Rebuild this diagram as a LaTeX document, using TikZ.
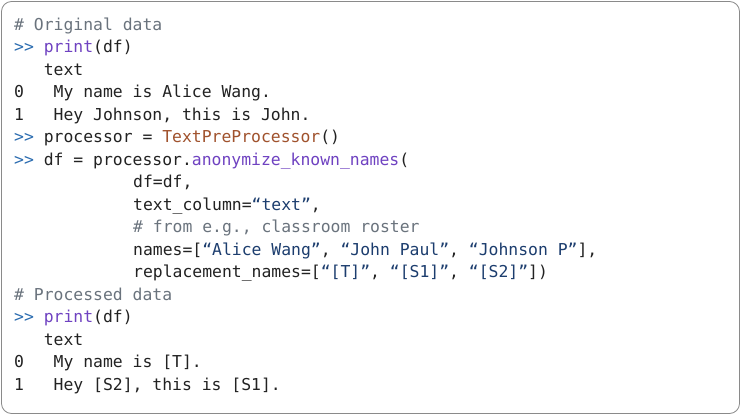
\documentclass[tikz,border=0pt]{standalone}
\usepackage{fontspec}
\setmonofont{DejaVu Sans Mono}[Scale=1.0]
\usepackage{xcolor}
\definecolor{cmtgray}{HTML}{6A737D}
\definecolor{promptblue}{HTML}{2B6CB0}
\definecolor{funcpurple}{HTML}{6F42C1}
\definecolor{classbrown}{HTML}{A0522D}
\definecolor{strnavy}{HTML}{1C3D6E}
\definecolor{codeblack}{HTML}{222222}
\definecolor{boxedge}{HTML}{8A8A8A}
\newcommand{\cmt}[1]{\textcolor{cmtgray}{#1}}
\newcommand{\prm}{\textcolor{promptblue}{>{}>} }
\newcommand{\fn}[1]{\textcolor{funcpurple}{#1}}
\newcommand{\cls}[1]{\textcolor{classbrown}{#1}}
\newcommand{\str}[1]{\textcolor{strnavy}{#1}}
\begin{document}
\begin{tikzpicture}[x=1pt,y=-1pt]
\tikzset{codeline/.style={anchor=base west,inner sep=0pt,text=codeblack,
  font=\ttfamily\fontsize{16.4}{22}\selectfont}}
\useasboundingbox (0,0) rectangle (741,415);
\draw [boxedge, rounded corners=10pt, line width=0.8pt, fill=white] (1.5,1.5) rectangle (739.5,413.5);
\node [codeline] (l1) at (14,30) {\cmt{\# Original data}};
\node [codeline] (l2) at (14,52.5) {\prm\fn{print}(df)};
\node [codeline] (l3) at (14,75) {\ \ \ text};
\node [codeline] (l4) at (14,97.5) {0\ \ \ My name is Alice Wang.};
\node [codeline] (l5) at (14,120) {1\ \ \ Hey Johnson, this is John.};
\node [codeline] (l6) at (14,142.5) {\prm processor = \cls{TextPreProcessor}()};
\node [codeline] (l7) at (14,165) {\prm df = processor.\fn{anonymize\_known\_names}(};
\node [codeline] (l8) at (133,187.5) {df=df,};
\node [codeline] (l9) at (133,210) {text\_column=\str{“text”},};
\node [codeline] (l10) at (133,232.5) {\cmt{\# from e.g., classroom roster}};
\node [codeline] (l11) at (133,255) {names=[\str{“Alice Wang”}, \str{“John Paul”}, \str{“Johnson P”}],};
\node [codeline] (l12) at (133,277.5) {replacement\_names=[\str{“[T]”}, \str{“[S1]”}, \str{“[S2]”}])};
\node [codeline] (l13) at (14,300) {\cmt{\# Processed data}};
\node [codeline] (l14) at (14,322.5) {\prm\fn{print}(df)};
\node [codeline] (l15) at (14,345) {\ \ \ text};
\node [codeline] (l16) at (14,367.5) {0\ \ \ My name is [T].};
\node [codeline] (l17) at (14,390) {1\ \ \ Hey [S2], this is [S1].};
\end{tikzpicture}
\end{document}
